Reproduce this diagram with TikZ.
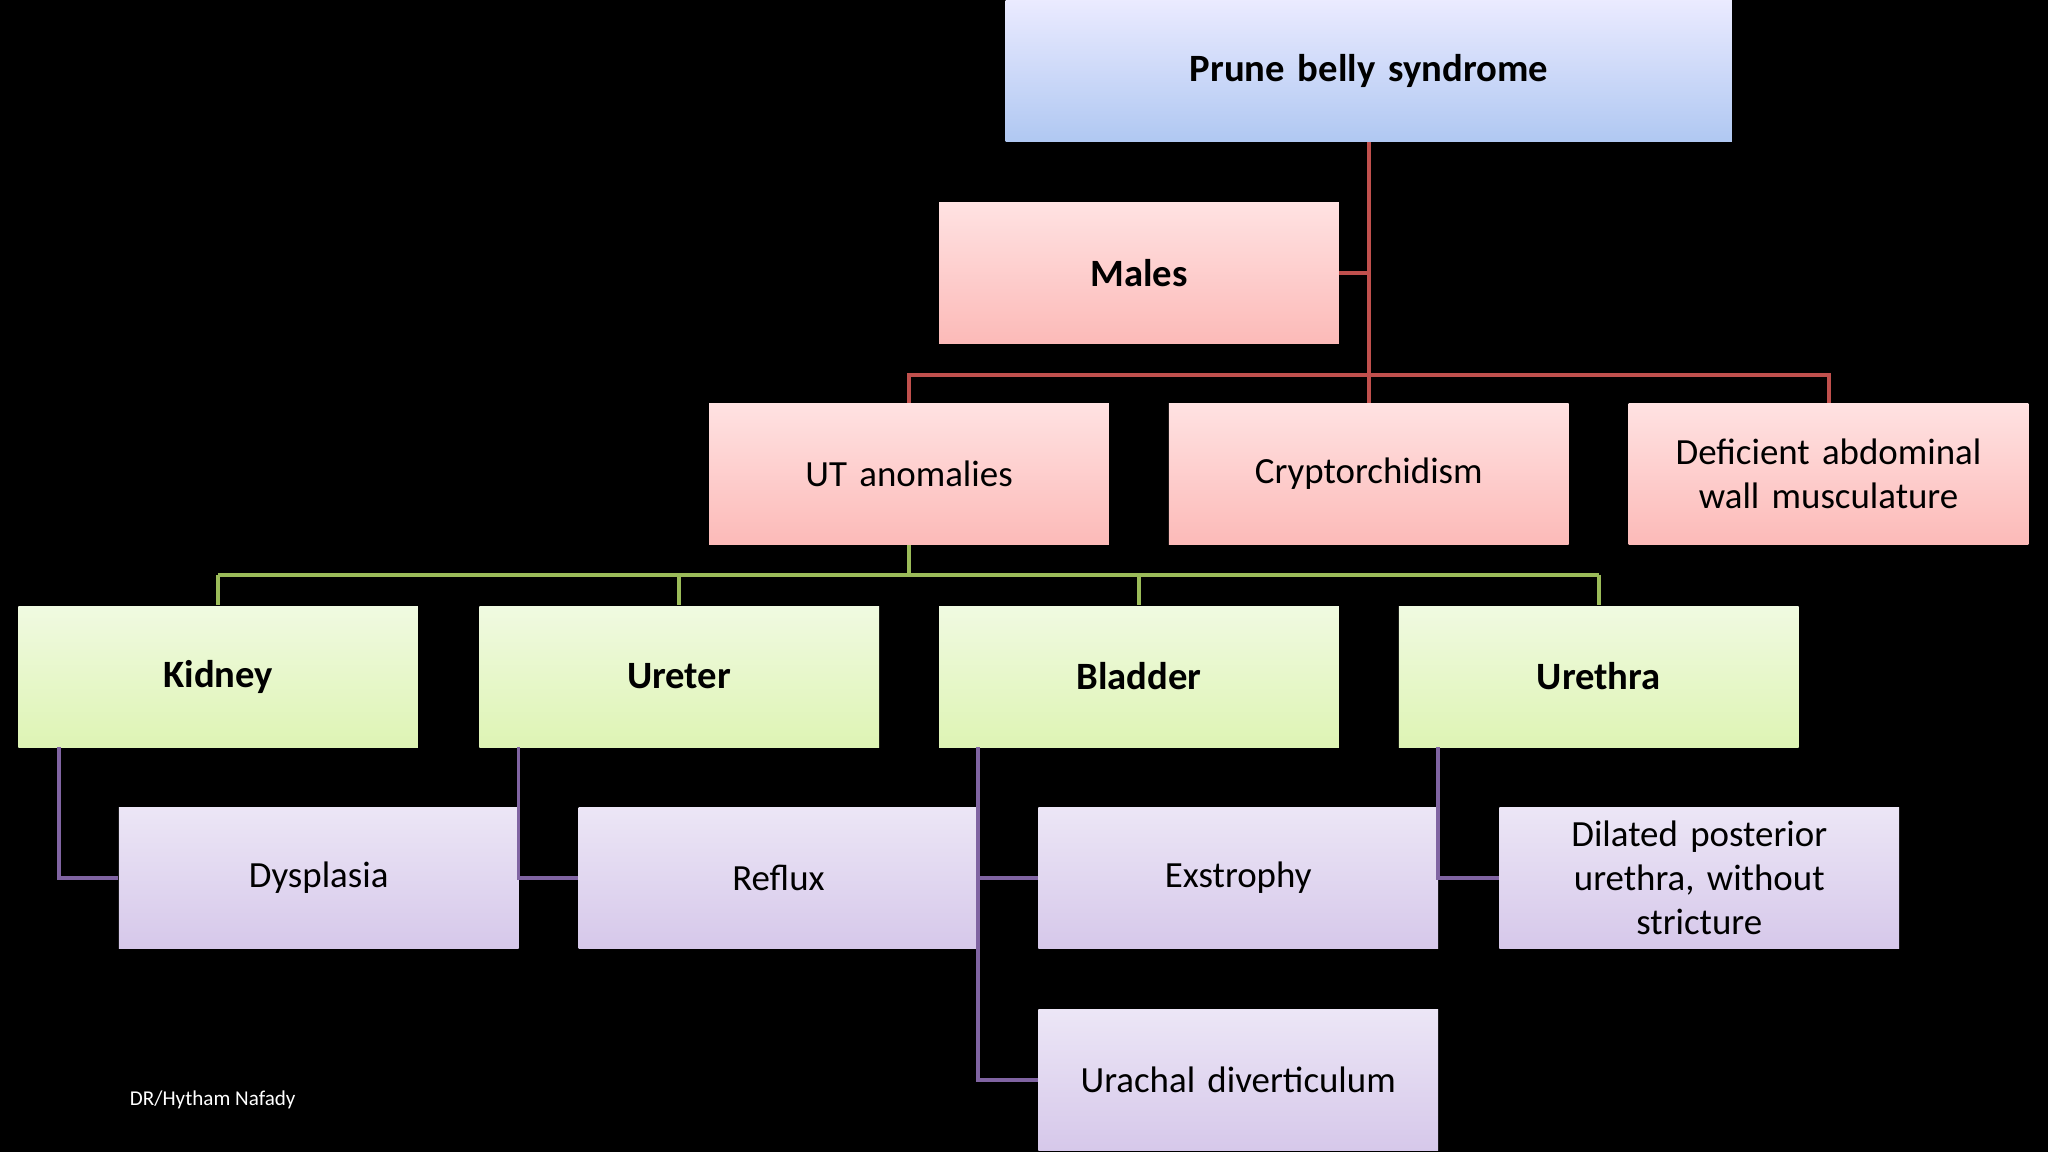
\documentclass[tikz,border=0pt]{standalone}
\usepackage{fontspec}
\setmainfont{Carlito}
\begin{document}
\begin{tikzpicture}[x=0.01306cm,y=-0.01306cm,
 box/.style={draw=none,inner sep=0pt,align=center,text width=290*0.01306cm,font=\fontsize{10.5}{12.5}\selectfont},
 pb/.style={box,minimum width=556*0.01306cm,minimum height=108*0.01306cm,top color=blue!8!white,bottom color={rgb,255:red,176;green,200;blue,242},font=\bfseries\fontsize{11}{13}\selectfont},
 pk/.style={box,minimum width=306*0.01306cm,minimum height=108*0.01306cm,top color={rgb,255:red,255;green,226;blue,226},bottom color={rgb,255:red,252;green,186;blue,184}},
 gr/.style={box,minimum width=306*0.01306cm,minimum height=108*0.01306cm,top color={rgb,255:red,240;green,250;blue,225},bottom color={rgb,255:red,222;green,244;blue,180},font=\bfseries\fontsize{11}{13}\selectfont},
 pu/.style={box,minimum width=306*0.01306cm,minimum height=108*0.01306cm,top color={rgb,255:red,236;green,230;blue,246},bottom color={rgb,255:red,214;green,200;blue,234}},
 rl/.style={draw={rgb,255:red,192;green,80;blue,77},line width=1.1pt},
 gl/.style={draw={rgb,255:red,155;green,187;blue,89},line width=1.1pt},
 pl/.style={draw={rgb,255:red,128;green,100;blue,162},line width=1.1pt}]
\fill[black] (0,0) rectangle (1568,882);
\node[pb] (pbs) at (1048,54) {Prune belly syndrome};
\node[pk,font=\bfseries\fontsize{11}{13}\selectfont] (males) at (872,209) {Males};
\node[pk] (ut) at (696,363) {UT anomalies};
\node[pk] (cr) at (1048,363) {Cryptorchidism};
\node[pk] (def) at (1400,363) {Deficient abdominal\\wall musculature};
\node[gr] (kid) at (167,518) {Kidney};
\node[gr] (ure) at (520,518) {Ureter};
\node[gr] (bla) at (872,518) {Bladder};
\node[gr] (urt) at (1224,518) {Urethra};
\node[pu] (dys) at (244,672) {Dysplasia};
\node[pu] (ref) at (596,672) {Reflux};
\node[pu] (exs) at (948,672) {Exstrophy};
\node[pu] (dil) at (1301,672) {Dilated posterior\\urethra, without\\stricture};
\node[pu] (ura) at (948,827) {Urachal diverticulum};
\node[anchor=west,text=white,font=\fontsize{6}{7}\selectfont] (ft) at (90,842) {DR/Hytham Nafady};
% red
\draw[rl] (pbs.south) -- (cr.north);
\draw[rl] (males.east) -- (1048,209);
\draw[rl] (ut.north) -- (696,287) -- (1400,287) -- (def.north);
% green
\draw[gl] (ut.south) -- (696,440);
\draw[gl] (167,440) -- (1224,440);
\foreach \n/\x in {kid/167,ure/520,bla/872,urt/1224} \draw[gl] (\x,440) -- (\n.north);
% purple
\draw[pl] (45,572) -- (45,672) -- (dys.west);
\draw[pl] (397,572) -- (397,672) -- (ref.west);
\draw[pl] (749,572) -- (749,827) -- (ura.west);
\draw[pl] (749,672) -- (exs.west);
\draw[pl] (1101,572) -- (1101,672) -- (dil.west);
\end{tikzpicture}
\end{document}
